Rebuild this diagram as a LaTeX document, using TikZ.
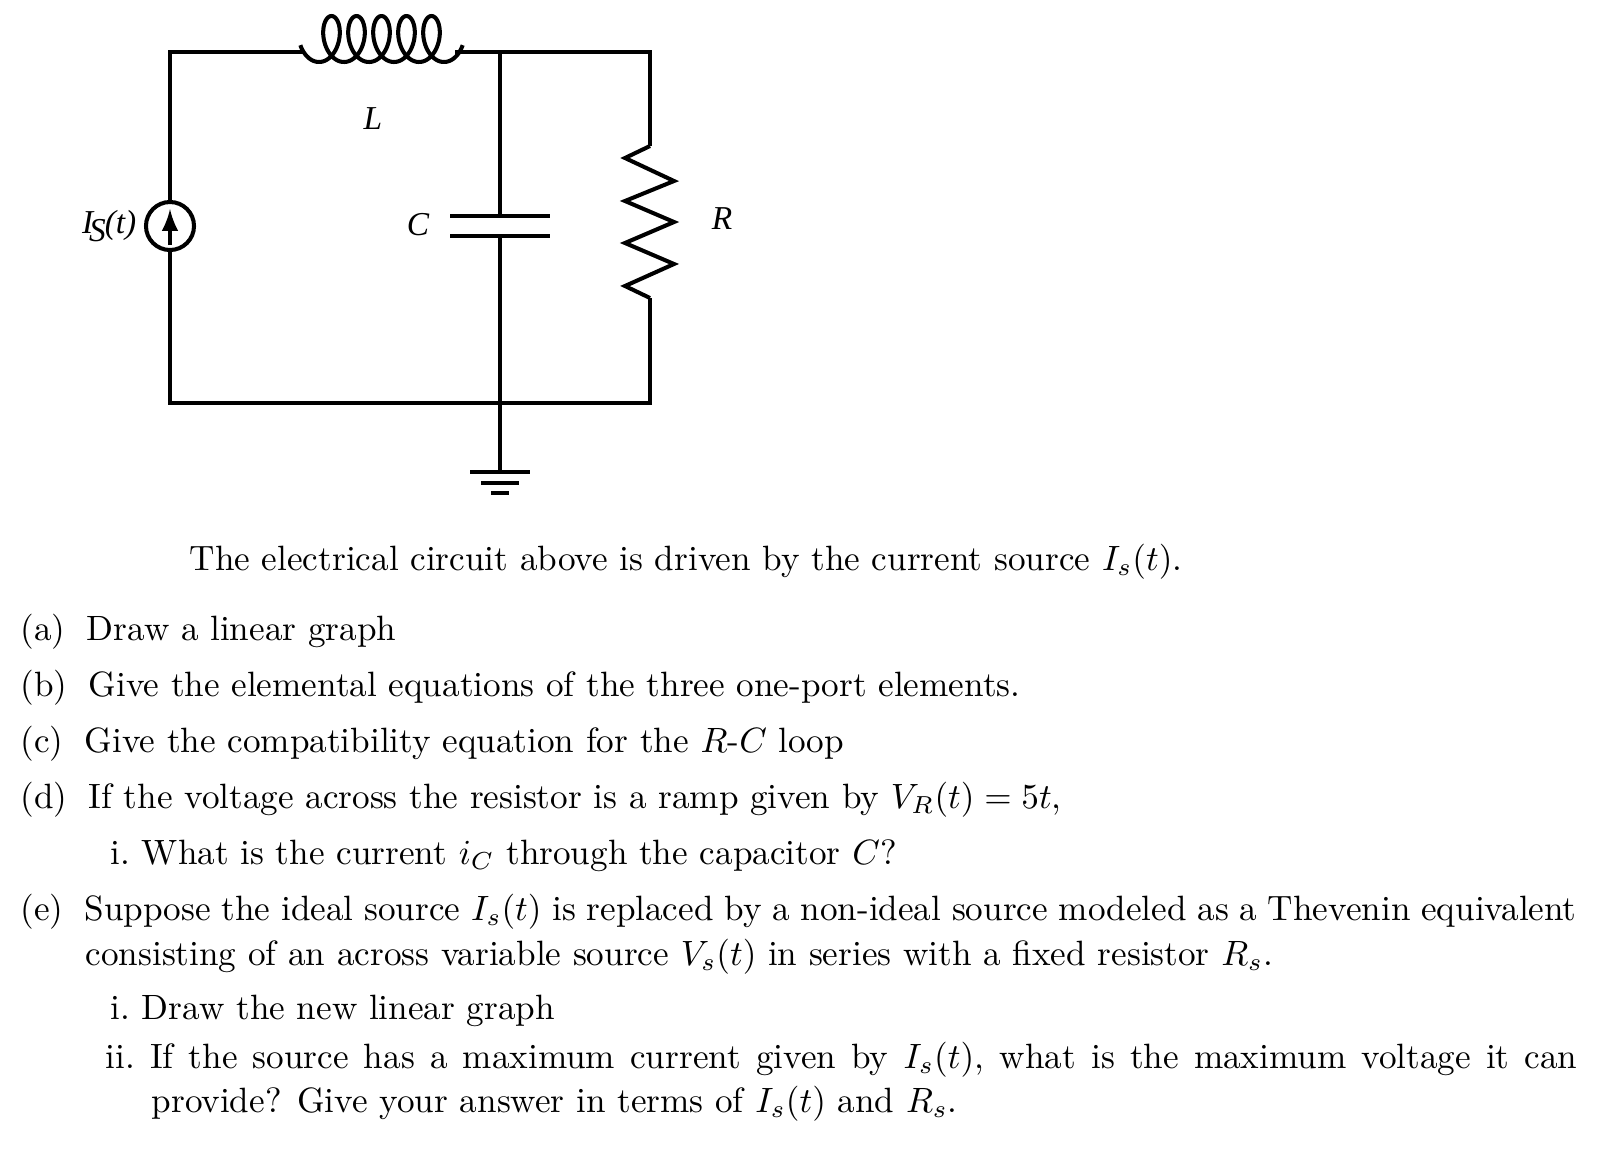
\documentclass[tikz,border=0pt]{standalone}
\usepackage{fontspec}
\newfontfamily\lbl{Liberation Serif}
\begin{document}
\begin{tikzpicture}[x=0.01cm,y=-0.01cm,
  wire/.style={line width=1.15pt,line join=miter},
  txt/.style={anchor=base west,inner sep=0pt,font=\fontsize{10}{12}\selectfont},
  lab/.style={inner sep=0pt,font=\lbl\itshape\fontsize{9.5}{11}\selectfont}]
\useasboundingbox (0,0) rectangle (1601,1148);
% corners
\coordinate (tl) at (170,52); \coordinate (bl) at (170,403);
\coordinate (tm) at (500,52); \coordinate (bm) at (500,403);
\coordinate (tr) at (650,52); \coordinate (br) at (650,403);
\coordinate (la) at (305,52); \coordinate (lb) at (455,52);
\node[circle,draw,line width=1.15pt,minimum size=0.48cm,inner sep=0] (src) at (170,226) {};
\draw[wire] (src.north) -- (tl) -- (la);
\draw[wire] (src.south) -- (bl) -- (br) -- (650,298);
\draw[wire] (lb) -- (tr) -- (650,146);
\draw[wire,-latex] (170,245) -- (170,209);
% inductor
\draw[wire,line join=round] plot[domain=-1.3:32.72,samples=300,smooth] ({319+25*\x/6.2832+14*sin(\x r)},{39+23*cos(\x r)});
% resistor
\draw[wire] (650,146)--(625,158)--(674,181)--(625,201)--(674,222)--(625,243)--(674,264)--(625,286)--(650,298);
% capacitor
\draw[wire] (tm) -- (500,216);
\draw[wire] (500,236) -- (bm) -- (500,472);
\draw[wire] (450,216) -- (550,216);
\draw[wire] (450,236) -- (550,236);
% ground
\draw[wire] (470,472) -- (530,472);
\draw[wire] (481,483) -- (519,483);
\draw[wire] (491,493) -- (509,493);
% labels
\node[lab] (lL) at (373,119) {L};
\node[lab] (lC) at (418,225) {C};
\node[lab] (lR) at (722,219) {R};
\node[lab,anchor=east] (lI) at (137,226) {I\kern-1.2pt\raisebox{-2.5pt}{S}\kern-0.3pt(t)};
% text
\node[txt] (t0) at (189,570) {The electrical circuit above is driven by the current source $I_s(t)$.};
\node[txt] (ta) at (20,640) {(a)\hspace{0.6em}Draw a linear graph};
\node[txt] (tb) at (20,696) {(b)\hspace{0.6em}Give the elemental equations of the three one-port elements.};
\node[txt] (tc) at (20,752) {(c)\hspace{0.6em}Give the compatibility equation for the $R$-$C$ loop};
\node[txt] (td) at (20,808) {(d)\hspace{0.6em}If the voltage across the resistor is a ramp given by $V_R(t)=5t$,};
\node[txt] (tdi) at (110,864) {i.\ What is the current $i_C$ through the capacitor $C$?};
\node[txt] (te) at (20,920) {\makebox[15.55cm][s]{(e)\hspace{0.6em}Suppose the ideal source $I_s(t)$ is replaced by a non-ideal source modeled as a Thevenin equivalent}};
\node[txt] (te2) at (85,965) {consisting of an across variable source $V_s(t)$ in series with a fixed resistor $R_s$.};
\node[txt] (tei) at (110,1019) {i.\ Draw the new linear graph};
\node[txt] (teii) at (105,1068) {\makebox[14.71cm][s]{ii.\ If the source has a maximum current given by $I_s(t)$, what is the maximum voltage it can}};
\node[txt] (teii2) at (151,1112) {provide? Give your answer in terms of $I_s(t)$ and $R_s$.};
\end{tikzpicture}
\end{document}
